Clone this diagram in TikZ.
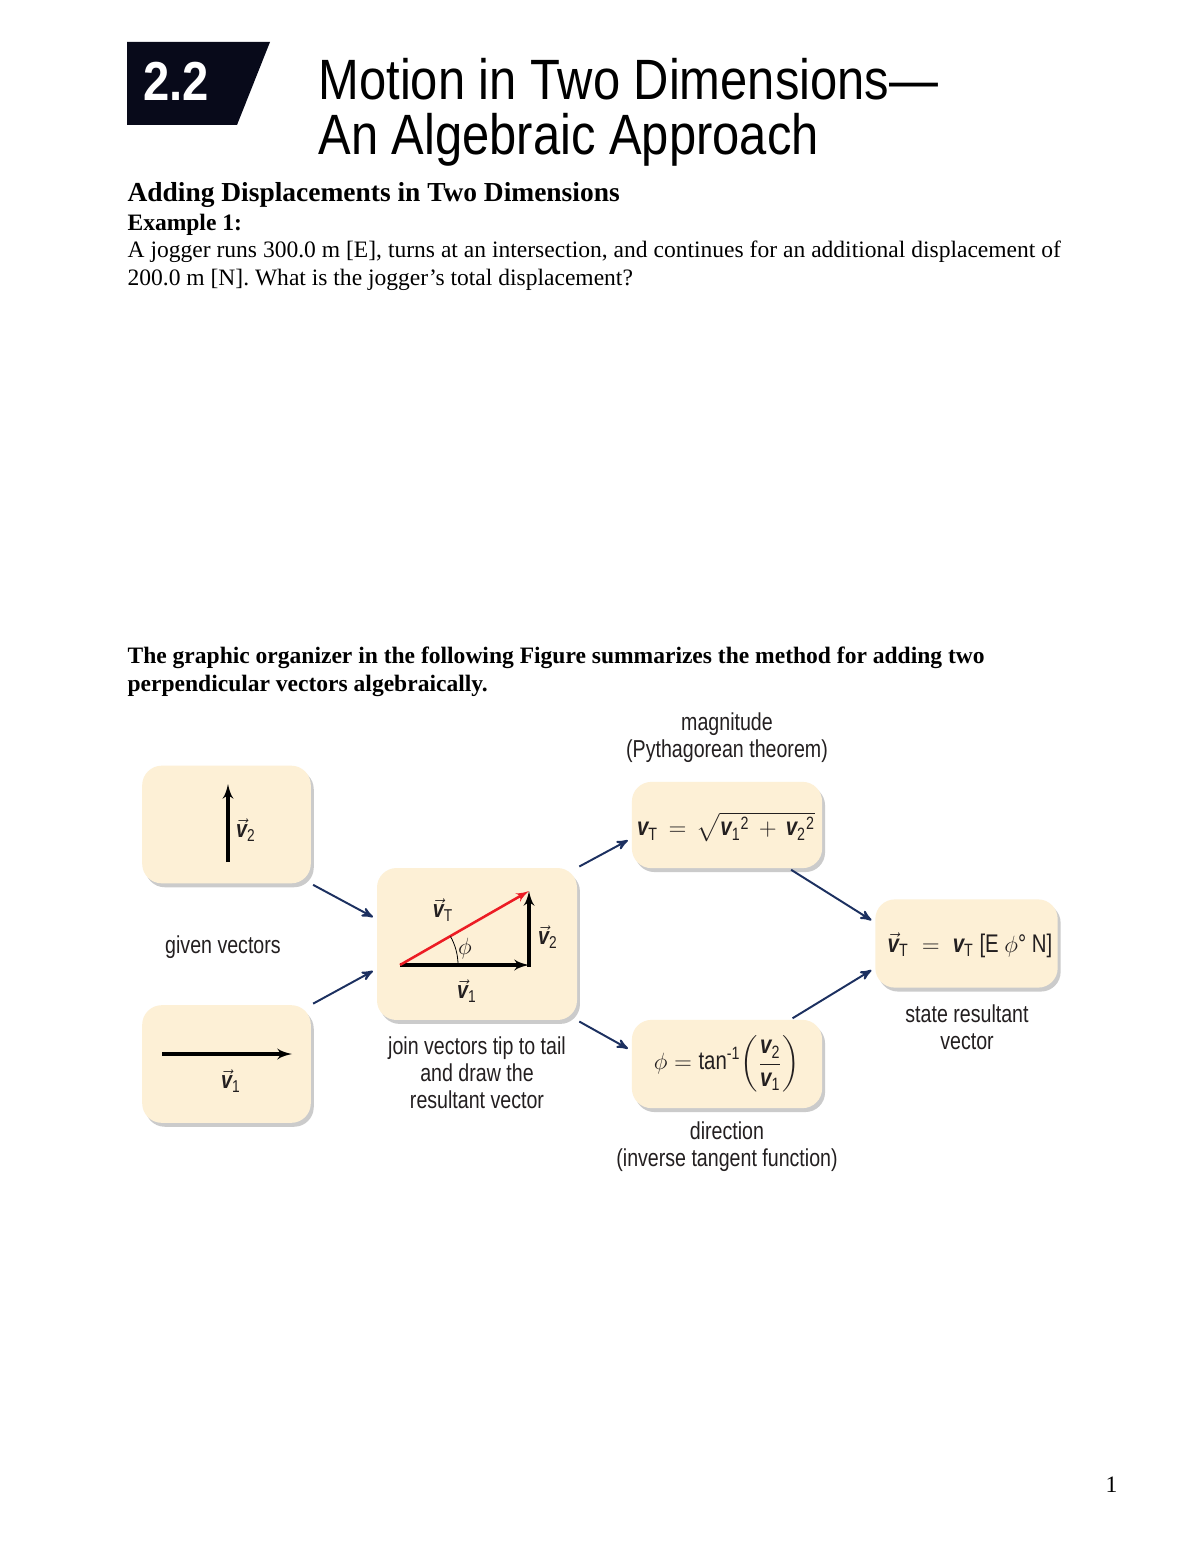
\documentclass[tikz,border=0pt]{standalone}
\usepackage{amsmath}
\usepackage{fontspec}
\setmainfont{Liberation Serif}
\newfontfamily\titlefont[FakeStretch=0.86]{Liberation Sans}
\newfontfamily\orgfont[FakeStretch=0.8]{Liberation Sans}
\usetikzlibrary{arrows,shadows,positioning}

\definecolor{boxcream}{RGB}{253,240,214}
\definecolor{linknavy}{RGB}{28,48,96}
\definecolor{badgeblack}{RGB}{8,10,26}
\definecolor{orgtext}{RGB}{35,31,32}
\definecolor{resred}{RGB}{236,28,36}

\newcommand{\vsym}{\text{\bfseries\itshape v}}

\begin{document}
\begin{tikzpicture}[x=0.51pt,y=-0.51pt,>=stealth',semithick]

    \tikzstyle{organizer}=[rectangle, rounded corners=10pt, fill=boxcream, inner sep=0pt,
        drop shadow={shadow xshift=1.5pt, shadow yshift=-2pt, fill=black!40, opacity=0.5}]
    \tikzstyle{link}=[->, draw=linknavy, line width=1pt, shorten <=1pt, shorten >=2pt]
    \tikzstyle{vecline}=[->, >=latex', line width=1.6pt, draw=black]
    \tikzstyle{orglabel}=[inner sep=0pt, align=center, text=orgtext,
        font=\orgfont\fontsize{12.5}{13.8}\selectfont]
    \tikzstyle{orgmath}=[inner sep=0pt, text=orgtext, font=\orgfont\fontsize{12.5}{14}\selectfont]
    \tikzstyle{bodytext}=[anchor=base west, inner sep=0pt, font=\fontsize{12}{14}\selectfont]

    \fill[white] (0,0) rectangle (1200,1553);

    % header
    \fill[badgeblack] (127,42) -- (270,42) -- (237,125) -- (127,125) -- cycle;
    \node[text=white, inner sep=0pt, font=\titlefont\bfseries\fontsize{28}{30}\selectfont] (badge) at (176,81) {2.2};
    \node[anchor=base west, inner sep=0pt, font=\titlefont\fontsize{29}{30}\selectfont] (title1) at (318,100) {Motion in Two Dimensions—};
    \node[anchor=base west, inner sep=0pt, font=\titlefont\fontsize{29}{30}\selectfont] (title2) at (318,155) {An Algebraic Approach};

    % text
    \node[bodytext, font=\bfseries\fontsize{14}{16}\selectfont] (heading) at (127,202) {Adding Displacements in Two Dimensions};
    \node[bodytext, font=\bfseries\fontsize{12}{14}\selectfont] (example) at (127,231) {Example 1:};
    \node[bodytext] (line1) at (127,257) {\makebox[476pt][s]{A jogger runs 300.0 m [E], turns at an intersection, and continues for an additional displacement of}};
    \node[bodytext] (line2) at (127,285) {200.0 m [N]. What is the jogger’s total displacement?};
    \node[bodytext, font=\bfseries\fontsize{12}{14}\selectfont] (intro1) at (127,663) {The graphic organizer in the following Figure summarizes the method for adding two};
    \node[bodytext, font=\bfseries\fontsize{12}{14}\selectfont] (intro2) at (127,691) {perpendicular vectors algebraically.};

    % boxes
    \node[organizer, minimum width=86pt, minimum height=60pt] (gv2) at (226.5,824.5) {};
    \node[organizer, minimum width=86pt, minimum height=60pt] (gv1) at (226.5,1064) {};
    \node[organizer, minimum width=102pt, minimum height=77.5pt] (join) at (477,944) {};
    \node[organizer, minimum width=97pt, minimum height=44pt] (mag) at (727,825) {};
    \node[organizer, minimum width=97pt, minimum height=45pt] (dir) at (727,1064) {};
    \node[organizer, minimum width=93pt, minimum height=45pt] (state) at (966.5,943.5) {};

    % given vectors
    \coordinate (v2tail) at (228,862);
    \coordinate (v2tip)  at (228,784);
    \coordinate (v1tail) at (162,1054);
    \coordinate (v1tip)  at (292,1054);
    \draw[vecline] (v2tail) -- (v2tip);
    \draw[vecline] (v1tail) -- (v1tip);
    \node[orgmath] (v2lbl) at (246,830) {$\vec{\vsym}_{\text{2}}$};
    \node[orgmath] (v1lbl) at (231,1081) {$\vec{\vsym}_{\text{1}}$};

    % tip to tail
    \coordinate (o) at (400,965);
    \coordinate (p) at (529,965);
    \coordinate (q) at (529,891);
    \draw[vecline] (o) -- (p);
    \draw[vecline, shorten <=-0.8pt] (p) -- (q);
    \draw[vecline, draw=resred, line width=1.3pt] (o) -- (q);
    \draw[-, thin] (458,965) arc[start angle=0, end angle=-29.5, radius=58];
    \node[orgmath] (vtlbl) at (443,910) {$\vec{\vsym}_{\text{T}}$};
    \node[orgmath] (philbl) at (465,949) {$\phi$};
    \node[orgmath] (v2tri) at (548,937) {$\vec{\vsym}_{\text{2}}$};
    \node[orgmath] (v1tri) at (467,991) {$\vec{\vsym}_{\text{1}}$};

    % formulas
    \node[orgmath, font=\orgfont\fontsize{13}{15}\selectfont] (magf) at (726,827)
        {$\vsym_{\text{T}} \,=\, \sqrt{\vsym_{\text{1}}{}^{\text{2}} \,+\, \vsym_{\text{2}}{}^{\text{2}}}$};
    \node[orgmath, font=\orgfont\fontsize{13}{15}\selectfont] (dirf) at (727,1064)
        {$\phi = \text{tan}^{\text{-1}}\!\left(\dfrac{\vsym_{\text{2}}}{\vsym_{\text{1}}}\right)$};
    \node[orgmath, font=\orgfont\fontsize{13}{15}\selectfont] (statef) at (970,945)
        {$\vec{\vsym}_{\text{T}} \;=\; \vsym_{\text{T}}$ [E $\phi$° N]};

    % labels
    \node[orglabel] (givenlbl) at (223,947) {given vectors};
    \node[orglabel] (joinlbl) at (477,1073) {join vectors tip to tail\\and draw the\\resultant vector};
    \node[orglabel] (maglbl) at (727,738) {magnitude\\(Pythagorean theorem)};
    \node[orglabel] (dirlbl) at (727,1147) {direction\\(inverse tangent function)};
    \node[orglabel] (statelbl) at (967,1027) {state resultant\\vector};

    % connectors
    \path
    (gv2.south east) edge[link] (join.166)
    (gv1.north east) edge[link] (join.194)
    (join.north east) edge[link] (mag.188)
    (join.south east) edge[link] (dir.172)
    (mag.-35)  edge[link] (state.167)
    (dir.35)   edge[link] (state.195)
    ;

    \node[bodytext] (pagenum) at (1105,1492) {1};

\end{tikzpicture}
\end{document}
